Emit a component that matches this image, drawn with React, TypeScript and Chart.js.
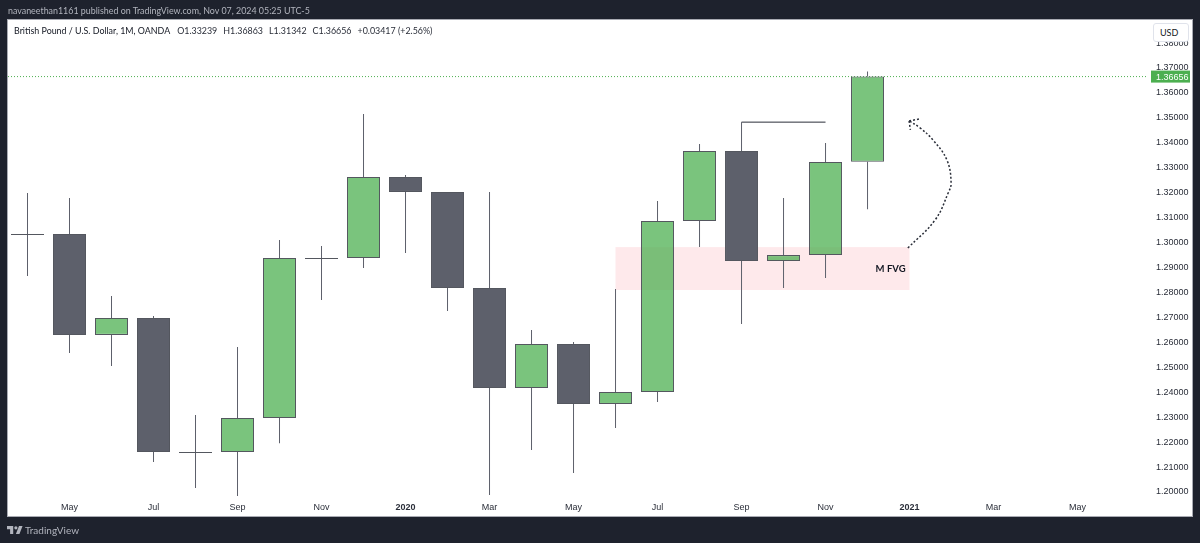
import React, { useEffect, useRef } from "react";
import { Chart, registerables } from "chart.js";

Chart.register(...registerables);

// Monthly candles, April 2019 to December 2020
const opens = [1.3034, 1.3034, 1.263, 1.2698, 1.216, 1.216, 1.2297, 1.2938, 1.2938, 1.3263, 1.3203, 1.2818, 1.2417, 1.2593, 1.2353, 1.2401, 1.3087, 1.3367, 1.2926, 1.295, 1.33239];
const highs = [1.3199, 1.3179, 1.2786, 1.2706, 1.2309, 1.2581, 1.301, 1.2986, 1.3516, 1.3271, 1.3203, 1.3203, 1.265, 1.2601, 1.2814, 1.3167, 1.3395, 1.3483, 1.3179, 1.3399, 1.36863];
const lows = [1.2866, 1.2557, 1.2505, 1.212, 1.2016, 1.1984, 1.2196, 1.277, 1.2898, 1.2958, 1.2726, 1.1988, 1.2168, 1.2076, 1.2257, 1.2361, 1.2982, 1.2674, 1.2818, 1.2858, 1.31342];
const closes = [1.303, 1.263, 1.2698, 1.216, 1.2156, 1.2297, 1.2938, 1.2934, 1.3263, 1.3203, 1.2818, 1.2417, 1.2593, 1.2353, 1.2401, 1.3087, 1.3367, 1.2926, 1.295, 1.3323, 1.36656];

const monthTicks = [1, 3, 5, 7, 9, 11, 13, 15, 17, 19, 21, 23, 25];
const monthLabels = ["May", "Jul", "Sep", "Nov", "2020", "Mar", "May", "Jul", "Sep", "Nov", "2021", "Mar", "May"];
const yearTicks = [9, 21];
const priceTicks = [1.2, 1.21, 1.22, 1.23, 1.24, 1.25, 1.26, 1.27, 1.28, 1.29, 1.3, 1.31, 1.32, 1.33, 1.34, 1.35, 1.36, 1.37, 1.38];

const lastPrice = 1.36656;
const fvgRange = { fromIdx: 14, toIdx: 21, low: 1.281, high: 1.2982 };
const fvgLabel = "M FVG";
const levelX = [17, 19];
const levelY = [1.3483, 1.3483];
const arrowX = [20.96, 21.61, 21.92, 21.99, 21.89, 21.56, 21.25, 20.99];
const arrowY = [1.2978, 1.3091, 1.3199, 1.3239, 1.3331, 1.3411, 1.346, 1.3488];
const headAX = [20.99, 21.25];
const headAY = [1.3488, 1.3496];
const headBX = [20.99, 21.02];
const headBY = [1.3488, 1.3452];

const xMin = -0.4643;
const xMax = 26.63;
const yMin = 1.198;
const yMax = 1.38925;

const GREEN = "rgba(76,175,80,0.74)";
const DARK = "#5d606b";
const EDGE = "#54575f";
const FRAME = "#1e222d";
const UI_FONT = "Lato, sans-serif";
const AXIS_FONT = "'Liberation Sans', sans-serif";

const zip = (xs: number[], ys: number[]) => xs.map((x, i) => ({ x, y: ys[i] }));

const framePlugin = {
  id: "frame",
  beforeDraw(chart: any) {
    const { ctx, width, height } = chart;
    ctx.save();
    ctx.fillStyle = FRAME;
    ctx.fillRect(0, 0, width, height);
    ctx.fillStyle = "#ffffff";
    ctx.fillRect(8, 20, 1184, 496);
    ctx.strokeStyle = "#a9abb3";
    ctx.lineWidth = 1;
    ctx.strokeRect(7.5, 19.5, 1185, 497);
    ctx.restore();
  },
};

const overlayPlugin = {
  id: "overlay",
  beforeDatasetsDraw(chart: any) {
    const { ctx, scales } = chart;
    const x = scales.x;
    const y = scales.y;
    ctx.save();
    const l = x.getPixelForValue(fvgRange.fromIdx);
    const r = x.getPixelForValue(fvgRange.toIdx);
    const t = y.getPixelForValue(fvgRange.high);
    const b = y.getPixelForValue(fvgRange.low);
    ctx.fillStyle = "rgba(242,54,69,0.11)";
    ctx.fillRect(l, t, r - l, b - t);
    ctx.fillStyle = "#131722";
    ctx.font = `bold 9.5px ${UI_FONT}`;
    ctx.textAlign = "right";
    ctx.textBaseline = "middle";
    ctx.fillText(fvgLabel, r - 4, (t + b) / 2);
    ctx.restore();
  },
  afterDraw(chart: any) {
    const { ctx, scales } = chart;
    const py = scales.y.getPixelForValue(lastPrice);
    ctx.save();
    ctx.fillStyle = "#4caf50";
    ctx.fillRect(1151, py - 6, 39, 12);
    ctx.fillStyle = "#ffffff";
    ctx.font = `9px ${AXIS_FONT}`;
    ctx.textAlign = "left";
    ctx.textBaseline = "middle";
    ctx.fillText(lastPrice.toFixed(5), 1156, py + 0.5);
    ctx.restore();
  },
};

const textStyle: React.CSSProperties = {
  position: "absolute",
  whiteSpace: "nowrap",
  fontFamily: UI_FONT,
  lineHeight: "12px",
};

export default function App() {
  const ref = useRef<HTMLCanvasElement>(null);
  useEffect(() => {
    const dashed = {
      type: "line",
      borderColor: "#2a2e39",
      borderWidth: 1.5,
      borderDash: [2, 2],
      pointRadius: 0,
      order: 1,
    };
    const chart = new Chart(ref.current!, {
      type: "bar",
      data: {
        datasets: [
          {
            type: "line",
            data: zip([xMin, xMax], [lastPrice, lastPrice]),
            borderColor: "#4caf50",
            borderWidth: 1,
            borderDash: [1, 2],
            pointRadius: 0,
            order: 5,
          },
          {
            data: highs.map((hi, i) => ({ x: i, y: [Math.max(opens[i], closes[i]), hi] })),
            backgroundColor: DARK,
            borderWidth: 0,
            inflateAmount: 0,
            barThickness: 1,
            grouped: false,
            order: 4,
          },
          {
            data: lows.map((lo, i) => ({ x: i, y: [lo, Math.min(opens[i], closes[i])] })),
            backgroundColor: DARK,
            borderWidth: 0,
            inflateAmount: 0,
            barThickness: 1,
            grouped: false,
            order: 4,
          },
          {
            data: opens.map((o, i) => ({ x: i, y: [o, closes[i]] })),
            backgroundColor: closes.map((c, i) => (c >= opens[i] ? GREEN : DARK)),
            borderColor: EDGE,
            borderWidth: 1,
            borderSkipped: false,
            inflateAmount: 0,
            barThickness: 33,
            grouped: false,
            order: 3,
          },
          {
            type: "line",
            data: zip(levelX, levelY),
            borderColor: "#2a2e39",
            borderWidth: 1,
            pointRadius: 0,
            order: 2,
          },
          { ...dashed, data: zip(arrowX, arrowY), tension: 0.4 },
          { ...dashed, data: zip(headAX, headAY) },
          { ...dashed, data: zip(headBX, headBY) },
        ] as any,
      },
      options: {
        animation: false,
        responsive: false,
        devicePixelRatio: 1,
        layout: { padding: { top: 20, left: 8, right: 8, bottom: 27 } },
        plugins: { legend: { display: false }, tooltip: { enabled: false } },
        scales: {
          x: {
            type: "linear",
            offset: false,
            min: xMin,
            max: xMax,
            grid: { display: false, drawTicks: false },
            border: { display: false },
            afterBuildTicks: (s: any) => {
              s.ticks = monthTicks.map((value) => ({ value }));
            },
            afterFit: (s: any) => {
              s.height = 19;
            },
            ticks: {
              autoSkip: false,
              maxRotation: 0,
              padding: 5,
              color: "#2a2e39",
              font: (c: any) => ({
                family: AXIS_FONT,
                size: 9,
                weight: yearTicks.includes(c.tick?.value) ? "bold" : "normal",
              }),
              callback: (v: any) => monthLabels[monthTicks.indexOf(v)],
            },
          },
          y: {
            type: "linear",
            position: "right",
            min: yMin,
            max: yMax,
            grid: { display: false, drawTicks: false },
            border: { display: false },
            afterBuildTicks: (s: any) => {
              s.ticks = priceTicks.map((value) => ({ value }));
            },
            afterFit: (s: any) => {
              s.width = 46;
            },
            ticks: {
              autoSkip: false,
              padding: 10,
              color: "#2a2e39",
              font: { family: AXIS_FONT, size: 9 },
              callback: (v: any) => Number(v).toFixed(5),
            },
          },
        },
      } as any,
      plugins: [framePlugin, overlayPlugin],
    });
    return () => chart.destroy();
  }, []);

  return (
    <div style={{ position: "fixed", left: 0, top: 0, width: 1200, height: 543, background: FRAME, overflow: "hidden" }}>
      <canvas ref={ref} width={1200} height={543} style={{ display: "block", width: 1200, height: 543 }} />
      <div style={{ ...textStyle, left: 8, top: 5, fontSize: 8.9, color: "#b2b5be" }}>
        navaneethan1161 published on TradingView.com, Nov 07, 2024 05:25 UTC-5
      </div>
      <div style={{ ...textStyle, left: 14, top: 25, fontSize: 8.9, color: "#131722" }}>
        British Pound / U.S. Dollar, 1M, OANDA
        <span style={{ color: "#2a2e39" }}>
          <span style={{ marginLeft: 7 }}>O1.33239</span>
          <span style={{ marginLeft: 6 }}>H1.36863</span>
          <span style={{ marginLeft: 6 }}>L1.31342</span>
          <span style={{ marginLeft: 6 }}>C1.36656</span>
          <span style={{ marginLeft: 6 }}>+0.03417 (+2.56%)</span>
        </span>
      </div>
      <div
        style={{
          ...textStyle,
          left: 1153,
          top: 23,
          width: 36,
          height: 19,
          lineHeight: "18px",
          boxSizing: "border-box",
          paddingLeft: 6,
          border: "1px solid #e0e3eb",
          borderRadius: 3,
          background: "#fff",
          fontSize: 9,
          color: "#131722",
        }}
      >
        USD
      </div>
      <svg style={{ position: "absolute", left: 7, top: 526 }} width="16" height="9" viewBox="0 0 36 20">
        <path d="M14 18H7V7H0V0h14v18zM28 18h-8l7-18h8l-7 18z" fill="#b2b5be" />
        <circle cx="20" cy="4" r="3.6" fill="#b2b5be" />
      </svg>
      <div style={{ ...textStyle, left: 25, top: 524, fontSize: 10, color: "#b2b5be" }}>TradingView</div>
    </div>
  );
}
